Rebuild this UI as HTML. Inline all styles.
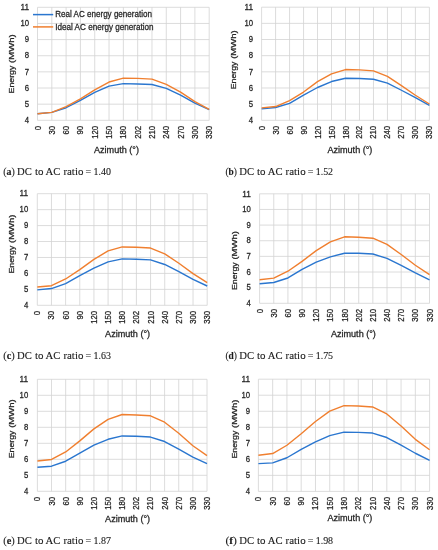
<!DOCTYPE html>
<html><head><meta charset="utf-8"><title>Figure</title>
<style>
html,body{margin:0;padding:0;background:#fff;}
body{width:438px;height:550px;overflow:hidden;}
svg{display:block;will-change:transform;}
.t,.ti,.lg,.yt{font-family:"Liberation Sans",sans-serif;fill:#262626;stroke:#262626;stroke-width:0.27px;}
.t{font-size:8.6px;}
.ti{font-size:8.6px;}
.lg{font-size:8.8px;}
.yt{font-size:8.0px;}
.cap{font-family:"Liberation Serif",serif;font-size:11.4px;fill:#1a1a1a;stroke:#1a1a1a;stroke-width:0.12px;}
</style></head>
<body>
<svg width="438" height="550" viewBox="0 0 438 550">
<rect width="438" height="550" fill="#fff"/>
<path d="M37.5 120.3H209.2M37.5 104.16H209.2M37.5 88.01H209.2M37.5 71.87H209.2M37.5 55.73H209.2M37.5 39.59H209.2M37.5 23.44H209.2M37.5 7.3H209.2M37.5 7.3V120.3M51.81 7.3V120.3M66.12 7.3V120.3M80.42 7.3V120.3M94.73 7.3V120.3M109.04 7.3V120.3M123.35 7.3V120.3M137.66 7.3V120.3M151.97 7.3V120.3M166.27 7.3V120.3M180.58 7.3V120.3M194.89 7.3V120.3M209.2 7.3V120.3" stroke="#d3d3d3" stroke-width="0.8" fill="none"/>
<text x="29.1" y="123.01" text-anchor="end" textLength="4.3" lengthAdjust="spacingAndGlyphs" class="t">4</text>
<text x="29.1" y="106.87" text-anchor="end" textLength="4.3" lengthAdjust="spacingAndGlyphs" class="t">5</text>
<text x="29.1" y="90.72" text-anchor="end" textLength="4.3" lengthAdjust="spacingAndGlyphs" class="t">6</text>
<text x="29.1" y="74.58" text-anchor="end" textLength="4.3" lengthAdjust="spacingAndGlyphs" class="t">7</text>
<text x="29.1" y="58.44" text-anchor="end" textLength="4.3" lengthAdjust="spacingAndGlyphs" class="t">8</text>
<text x="29.1" y="42.3" text-anchor="end" textLength="4.3" lengthAdjust="spacingAndGlyphs" class="t">9</text>
<text x="29.1" y="26.15" text-anchor="end" textLength="8.6" lengthAdjust="spacingAndGlyphs" class="t">10</text>
<text x="29.1" y="10.01" text-anchor="end" textLength="8.6" lengthAdjust="spacingAndGlyphs" class="t">11</text>
<text transform="translate(40.51 125.9) rotate(-90)" text-anchor="end" textLength="4.3" lengthAdjust="spacingAndGlyphs" class="t">0</text>
<text transform="translate(54.82 125.9) rotate(-90)" text-anchor="end" textLength="8.6" lengthAdjust="spacingAndGlyphs" class="t">30</text>
<text transform="translate(69.13 125.9) rotate(-90)" text-anchor="end" textLength="8.6" lengthAdjust="spacingAndGlyphs" class="t">60</text>
<text transform="translate(83.44 125.9) rotate(-90)" text-anchor="end" textLength="8.6" lengthAdjust="spacingAndGlyphs" class="t">90</text>
<text transform="translate(97.74 125.9) rotate(-90)" text-anchor="end" textLength="12.9" lengthAdjust="spacingAndGlyphs" class="t">120</text>
<text transform="translate(112.05 125.9) rotate(-90)" text-anchor="end" textLength="12.9" lengthAdjust="spacingAndGlyphs" class="t">150</text>
<text transform="translate(126.36 125.9) rotate(-90)" text-anchor="end" textLength="12.9" lengthAdjust="spacingAndGlyphs" class="t">180</text>
<text transform="translate(140.67 125.9) rotate(-90)" text-anchor="end" textLength="12.9" lengthAdjust="spacingAndGlyphs" class="t">202</text>
<text transform="translate(154.98 125.9) rotate(-90)" text-anchor="end" textLength="12.9" lengthAdjust="spacingAndGlyphs" class="t">210</text>
<text transform="translate(169.28 125.9) rotate(-90)" text-anchor="end" textLength="12.9" lengthAdjust="spacingAndGlyphs" class="t">240</text>
<text transform="translate(183.59 125.9) rotate(-90)" text-anchor="end" textLength="12.9" lengthAdjust="spacingAndGlyphs" class="t">270</text>
<text transform="translate(197.9 125.9) rotate(-90)" text-anchor="end" textLength="12.9" lengthAdjust="spacingAndGlyphs" class="t">300</text>
<text transform="translate(212.21 125.9) rotate(-90)" text-anchor="end" textLength="12.9" lengthAdjust="spacingAndGlyphs" class="t">330</text>
<text transform="translate(13.9 93.4) rotate(-90)" textLength="27.8" lengthAdjust="spacingAndGlyphs" class="yt">Energy</text>
<text transform="translate(13.9 62.9) rotate(-90)" textLength="28.5" lengthAdjust="spacingAndGlyphs" class="yt">(MWh)</text>
<text x="116.5" y="153" text-anchor="middle" textLength="45.0" lengthAdjust="spacingAndGlyphs" class="ti">Azimuth (°)</text>
<polyline points="37.5,113.68 51.81,112.39 66.12,107.71 80.42,100.28 94.73,92.37 109.04,86.08 123.35,83.66 137.66,83.98 151.97,84.46 166.27,88.34 180.58,95.12 194.89,103.19 209.2,109.65" fill="none" stroke="#2a76cf" stroke-width="1.4" stroke-linejoin="round" stroke-linecap="butt"/>
<polyline points="37.5,113.68 51.81,112.39 66.12,106.58 80.42,98.83 94.73,89.95 109.04,82.04 123.35,78.17 137.66,78.33 151.97,79.14 166.27,84.3 180.58,92.05 194.89,101.57 209.2,109.48" fill="none" stroke="#f07f2f" stroke-width="1.4" stroke-linejoin="round" stroke-linecap="butt"/>
<path d="M33 14.6H53.2" stroke="#2a76cf" stroke-width="1.5"/>
<path d="M33 26.9H53.2" stroke="#f07f2f" stroke-width="1.5"/>
<text x="55.2" y="17.1" textLength="96.8" lengthAdjust="spacingAndGlyphs" class="lg">Real AC energy generation</text>
<text x="55.2" y="29.7" textLength="98.4" lengthAdjust="spacingAndGlyphs" class="lg">Ideal AC energy generation</text>
<text x="3.2" y="175" textLength="11.5" lengthAdjust="spacingAndGlyphs" class="cap">(<tspan font-weight="bold">a</tspan>)</text>
<text x="17.1" y="175" textLength="14.8" lengthAdjust="spacingAndGlyphs" class="cap">DC</text>
<text x="34.9" y="175" textLength="8.5" lengthAdjust="spacingAndGlyphs" class="cap">to</text>
<text x="45.5" y="175" textLength="14.8" lengthAdjust="spacingAndGlyphs" class="cap">AC</text>
<text x="63.4" y="175" textLength="20" lengthAdjust="spacingAndGlyphs" class="cap">ratio</text>
<text x="85.6" y="175" textLength="5.7" lengthAdjust="spacingAndGlyphs" class="cap">=</text>
<text x="93.5" y="175" textLength="17.4" lengthAdjust="spacingAndGlyphs" class="cap">1.40</text>
<path d="M261.6 120.3H429.4M261.6 104.14H429.4M261.6 87.99H429.4M261.6 71.83H429.4M261.6 55.67H429.4M261.6 39.51H429.4M261.6 23.36H429.4M261.6 7.2H429.4M261.6 7.2V120.3M275.58 7.2V120.3M289.57 7.2V120.3M303.55 7.2V120.3M317.53 7.2V120.3M331.52 7.2V120.3M345.5 7.2V120.3M359.48 7.2V120.3M373.47 7.2V120.3M387.45 7.2V120.3M401.43 7.2V120.3M415.42 7.2V120.3M429.4 7.2V120.3" stroke="#d3d3d3" stroke-width="0.8" fill="none"/>
<text x="253" y="123.01" text-anchor="end" textLength="4.3" lengthAdjust="spacingAndGlyphs" class="t">4</text>
<text x="253" y="106.85" text-anchor="end" textLength="4.3" lengthAdjust="spacingAndGlyphs" class="t">5</text>
<text x="253" y="90.7" text-anchor="end" textLength="4.3" lengthAdjust="spacingAndGlyphs" class="t">6</text>
<text x="253" y="74.54" text-anchor="end" textLength="4.3" lengthAdjust="spacingAndGlyphs" class="t">7</text>
<text x="253" y="58.38" text-anchor="end" textLength="4.3" lengthAdjust="spacingAndGlyphs" class="t">8</text>
<text x="253" y="42.22" text-anchor="end" textLength="4.3" lengthAdjust="spacingAndGlyphs" class="t">9</text>
<text x="253" y="26.07" text-anchor="end" textLength="8.6" lengthAdjust="spacingAndGlyphs" class="t">10</text>
<text x="253" y="9.91" text-anchor="end" textLength="8.6" lengthAdjust="spacingAndGlyphs" class="t">11</text>
<text transform="translate(264.61 125.9) rotate(-90)" text-anchor="end" textLength="4.3" lengthAdjust="spacingAndGlyphs" class="t">0</text>
<text transform="translate(278.59 125.9) rotate(-90)" text-anchor="end" textLength="8.6" lengthAdjust="spacingAndGlyphs" class="t">30</text>
<text transform="translate(292.58 125.9) rotate(-90)" text-anchor="end" textLength="8.6" lengthAdjust="spacingAndGlyphs" class="t">60</text>
<text transform="translate(306.56 125.9) rotate(-90)" text-anchor="end" textLength="8.6" lengthAdjust="spacingAndGlyphs" class="t">90</text>
<text transform="translate(320.54 125.9) rotate(-90)" text-anchor="end" textLength="12.9" lengthAdjust="spacingAndGlyphs" class="t">120</text>
<text transform="translate(334.53 125.9) rotate(-90)" text-anchor="end" textLength="12.9" lengthAdjust="spacingAndGlyphs" class="t">150</text>
<text transform="translate(348.51 125.9) rotate(-90)" text-anchor="end" textLength="12.9" lengthAdjust="spacingAndGlyphs" class="t">180</text>
<text transform="translate(362.49 125.9) rotate(-90)" text-anchor="end" textLength="12.9" lengthAdjust="spacingAndGlyphs" class="t">202</text>
<text transform="translate(376.48 125.9) rotate(-90)" text-anchor="end" textLength="12.9" lengthAdjust="spacingAndGlyphs" class="t">210</text>
<text transform="translate(390.46 125.9) rotate(-90)" text-anchor="end" textLength="12.9" lengthAdjust="spacingAndGlyphs" class="t">240</text>
<text transform="translate(404.44 125.9) rotate(-90)" text-anchor="end" textLength="12.9" lengthAdjust="spacingAndGlyphs" class="t">270</text>
<text transform="translate(418.43 125.9) rotate(-90)" text-anchor="end" textLength="12.9" lengthAdjust="spacingAndGlyphs" class="t">300</text>
<text transform="translate(432.41 125.9) rotate(-90)" text-anchor="end" textLength="12.9" lengthAdjust="spacingAndGlyphs" class="t">330</text>
<text transform="translate(235.8 89.3) rotate(-90)" textLength="27.8" lengthAdjust="spacingAndGlyphs" class="yt">Energy</text>
<text transform="translate(235.8 58.8) rotate(-90)" textLength="28.5" lengthAdjust="spacingAndGlyphs" class="yt">(MWh)</text>
<text x="349.9" y="153" text-anchor="middle" textLength="45.0" lengthAdjust="spacingAndGlyphs" class="ti">Azimuth (°)</text>
<polyline points="261.6,108.83 275.58,107.54 289.57,103.34 303.55,95.09 317.53,87.5 331.52,81.52 345.5,78.29 359.48,78.45 373.47,79.26 387.45,83.14 401.43,90.25 415.42,97.68 429.4,105.27" fill="none" stroke="#2a76cf" stroke-width="1.4" stroke-linejoin="round" stroke-linecap="butt"/>
<polyline points="261.6,107.86 275.58,106.57 289.57,100.59 303.55,92.03 317.53,81.68 331.52,73.93 345.5,69.57 359.48,69.89 373.47,70.86 387.45,76.35 401.43,85.56 415.42,95.26 429.4,103.98" fill="none" stroke="#f07f2f" stroke-width="1.4" stroke-linejoin="round" stroke-linecap="butt"/>
<text x="225.4" y="175" textLength="11.5" lengthAdjust="spacingAndGlyphs" class="cap">(<tspan font-weight="bold">b</tspan>)</text>
<text x="239.3" y="175" textLength="14.8" lengthAdjust="spacingAndGlyphs" class="cap">DC</text>
<text x="257.1" y="175" textLength="8.5" lengthAdjust="spacingAndGlyphs" class="cap">to</text>
<text x="267.7" y="175" textLength="14.8" lengthAdjust="spacingAndGlyphs" class="cap">AC</text>
<text x="285.6" y="175" textLength="20" lengthAdjust="spacingAndGlyphs" class="cap">ratio</text>
<text x="307.8" y="175" textLength="5.7" lengthAdjust="spacingAndGlyphs" class="cap">=</text>
<text x="315.7" y="175" textLength="17.4" lengthAdjust="spacingAndGlyphs" class="cap">1.52</text>
<path d="M37.3 305.3H207.2M37.3 289.36H207.2M37.3 273.41H207.2M37.3 257.47H207.2M37.3 241.53H207.2M37.3 225.59H207.2M37.3 209.64H207.2M37.3 193.7H207.2M37.3 193.7V305.3M51.46 193.7V305.3M65.62 193.7V305.3M79.77 193.7V305.3M93.93 193.7V305.3M108.09 193.7V305.3M122.25 193.7V305.3M136.41 193.7V305.3M150.57 193.7V305.3M164.72 193.7V305.3M178.88 193.7V305.3M193.04 193.7V305.3M207.2 193.7V305.3" stroke="#d3d3d3" stroke-width="0.8" fill="none"/>
<text x="28.2" y="308.01" text-anchor="end" textLength="4.3" lengthAdjust="spacingAndGlyphs" class="t">4</text>
<text x="28.2" y="292.07" text-anchor="end" textLength="4.3" lengthAdjust="spacingAndGlyphs" class="t">5</text>
<text x="28.2" y="276.12" text-anchor="end" textLength="4.3" lengthAdjust="spacingAndGlyphs" class="t">6</text>
<text x="28.2" y="260.18" text-anchor="end" textLength="4.3" lengthAdjust="spacingAndGlyphs" class="t">7</text>
<text x="28.2" y="244.24" text-anchor="end" textLength="4.3" lengthAdjust="spacingAndGlyphs" class="t">8</text>
<text x="28.2" y="228.3" text-anchor="end" textLength="4.3" lengthAdjust="spacingAndGlyphs" class="t">9</text>
<text x="28.2" y="212.35" text-anchor="end" textLength="8.6" lengthAdjust="spacingAndGlyphs" class="t">10</text>
<text x="28.2" y="196.41" text-anchor="end" textLength="8.6" lengthAdjust="spacingAndGlyphs" class="t">11</text>
<text transform="translate(40.31 310.9) rotate(-90)" text-anchor="end" textLength="4.3" lengthAdjust="spacingAndGlyphs" class="t">0</text>
<text transform="translate(54.47 310.9) rotate(-90)" text-anchor="end" textLength="8.6" lengthAdjust="spacingAndGlyphs" class="t">30</text>
<text transform="translate(68.63 310.9) rotate(-90)" text-anchor="end" textLength="8.6" lengthAdjust="spacingAndGlyphs" class="t">60</text>
<text transform="translate(82.78 310.9) rotate(-90)" text-anchor="end" textLength="8.6" lengthAdjust="spacingAndGlyphs" class="t">90</text>
<text transform="translate(96.94 310.9) rotate(-90)" text-anchor="end" textLength="12.9" lengthAdjust="spacingAndGlyphs" class="t">120</text>
<text transform="translate(111.1 310.9) rotate(-90)" text-anchor="end" textLength="12.9" lengthAdjust="spacingAndGlyphs" class="t">150</text>
<text transform="translate(125.26 310.9) rotate(-90)" text-anchor="end" textLength="12.9" lengthAdjust="spacingAndGlyphs" class="t">180</text>
<text transform="translate(139.42 310.9) rotate(-90)" text-anchor="end" textLength="12.9" lengthAdjust="spacingAndGlyphs" class="t">202</text>
<text transform="translate(153.58 310.9) rotate(-90)" text-anchor="end" textLength="12.9" lengthAdjust="spacingAndGlyphs" class="t">210</text>
<text transform="translate(167.73 310.9) rotate(-90)" text-anchor="end" textLength="12.9" lengthAdjust="spacingAndGlyphs" class="t">240</text>
<text transform="translate(181.89 310.9) rotate(-90)" text-anchor="end" textLength="12.9" lengthAdjust="spacingAndGlyphs" class="t">270</text>
<text transform="translate(196.05 310.9) rotate(-90)" text-anchor="end" textLength="12.9" lengthAdjust="spacingAndGlyphs" class="t">300</text>
<text transform="translate(210.21 310.9) rotate(-90)" text-anchor="end" textLength="12.9" lengthAdjust="spacingAndGlyphs" class="t">330</text>
<text transform="translate(14.35 273.5) rotate(-90)" textLength="27.8" lengthAdjust="spacingAndGlyphs" class="yt">Energy</text>
<text transform="translate(14.35 243) rotate(-90)" textLength="28.5" lengthAdjust="spacingAndGlyphs" class="yt">(MWh)</text>
<text x="127.6" y="337.1" text-anchor="middle" textLength="45.0" lengthAdjust="spacingAndGlyphs" class="ti">Azimuth (°)</text>
<polyline points="37.3,289.84 51.46,288.56 65.62,283.62 79.77,275.65 93.93,268.15 108.09,261.94 122.25,258.91 136.41,259.23 150.57,259.86 164.72,264.49 178.88,271.66 193.04,279.47 207.2,286.01" fill="none" stroke="#2a76cf" stroke-width="1.4" stroke-linejoin="round" stroke-linecap="butt"/>
<polyline points="37.3,286.97 51.46,285.69 65.62,278.99 79.77,269.59 93.93,259.38 108.09,250.93 122.25,246.95 136.41,247.27 150.57,248.07 164.72,253.8 178.88,263.21 193.04,273.57 207.2,282.66" fill="none" stroke="#f07f2f" stroke-width="1.4" stroke-linejoin="round" stroke-linecap="butt"/>
<text x="3.2" y="359.2" textLength="11.5" lengthAdjust="spacingAndGlyphs" class="cap">(<tspan font-weight="bold">c</tspan>)</text>
<text x="17.1" y="359.2" textLength="14.8" lengthAdjust="spacingAndGlyphs" class="cap">DC</text>
<text x="34.9" y="359.2" textLength="8.5" lengthAdjust="spacingAndGlyphs" class="cap">to</text>
<text x="45.5" y="359.2" textLength="14.8" lengthAdjust="spacingAndGlyphs" class="cap">AC</text>
<text x="63.4" y="359.2" textLength="20" lengthAdjust="spacingAndGlyphs" class="cap">ratio</text>
<text x="85.6" y="359.2" textLength="5.7" lengthAdjust="spacingAndGlyphs" class="cap">=</text>
<text x="93.5" y="359.2" textLength="17.4" lengthAdjust="spacingAndGlyphs" class="cap">1.63</text>
<path d="M259.6 303.3H429.5M259.6 287.66H429.5M259.6 272.01H429.5M259.6 256.37H429.5M259.6 240.73H429.5M259.6 225.09H429.5M259.6 209.44H429.5M259.6 193.8H429.5M259.6 193.8V303.3M273.76 193.8V303.3M287.92 193.8V303.3M302.08 193.8V303.3M316.23 193.8V303.3M330.39 193.8V303.3M344.55 193.8V303.3M358.71 193.8V303.3M372.87 193.8V303.3M387.02 193.8V303.3M401.18 193.8V303.3M415.34 193.8V303.3M429.5 193.8V303.3" stroke="#d3d3d3" stroke-width="0.8" fill="none"/>
<text x="250.9" y="306.01" text-anchor="end" textLength="4.3" lengthAdjust="spacingAndGlyphs" class="t">4</text>
<text x="250.9" y="290.37" text-anchor="end" textLength="4.3" lengthAdjust="spacingAndGlyphs" class="t">5</text>
<text x="250.9" y="274.72" text-anchor="end" textLength="4.3" lengthAdjust="spacingAndGlyphs" class="t">6</text>
<text x="250.9" y="259.08" text-anchor="end" textLength="4.3" lengthAdjust="spacingAndGlyphs" class="t">7</text>
<text x="250.9" y="243.44" text-anchor="end" textLength="4.3" lengthAdjust="spacingAndGlyphs" class="t">8</text>
<text x="250.9" y="227.8" text-anchor="end" textLength="4.3" lengthAdjust="spacingAndGlyphs" class="t">9</text>
<text x="250.9" y="212.15" text-anchor="end" textLength="8.6" lengthAdjust="spacingAndGlyphs" class="t">10</text>
<text x="250.9" y="196.51" text-anchor="end" textLength="8.6" lengthAdjust="spacingAndGlyphs" class="t">11</text>
<text transform="translate(262.61 308.9) rotate(-90)" text-anchor="end" textLength="4.3" lengthAdjust="spacingAndGlyphs" class="t">0</text>
<text transform="translate(276.77 308.9) rotate(-90)" text-anchor="end" textLength="8.6" lengthAdjust="spacingAndGlyphs" class="t">30</text>
<text transform="translate(290.93 308.9) rotate(-90)" text-anchor="end" textLength="8.6" lengthAdjust="spacingAndGlyphs" class="t">60</text>
<text transform="translate(305.09 308.9) rotate(-90)" text-anchor="end" textLength="8.6" lengthAdjust="spacingAndGlyphs" class="t">90</text>
<text transform="translate(319.24 308.9) rotate(-90)" text-anchor="end" textLength="12.9" lengthAdjust="spacingAndGlyphs" class="t">120</text>
<text transform="translate(333.4 308.9) rotate(-90)" text-anchor="end" textLength="12.9" lengthAdjust="spacingAndGlyphs" class="t">150</text>
<text transform="translate(347.56 308.9) rotate(-90)" text-anchor="end" textLength="12.9" lengthAdjust="spacingAndGlyphs" class="t">180</text>
<text transform="translate(361.72 308.9) rotate(-90)" text-anchor="end" textLength="12.9" lengthAdjust="spacingAndGlyphs" class="t">202</text>
<text transform="translate(375.88 308.9) rotate(-90)" text-anchor="end" textLength="12.9" lengthAdjust="spacingAndGlyphs" class="t">210</text>
<text transform="translate(390.03 308.9) rotate(-90)" text-anchor="end" textLength="12.9" lengthAdjust="spacingAndGlyphs" class="t">240</text>
<text transform="translate(404.19 308.9) rotate(-90)" text-anchor="end" textLength="12.9" lengthAdjust="spacingAndGlyphs" class="t">270</text>
<text transform="translate(418.35 308.9) rotate(-90)" text-anchor="end" textLength="12.9" lengthAdjust="spacingAndGlyphs" class="t">300</text>
<text transform="translate(432.51 308.9) rotate(-90)" text-anchor="end" textLength="12.9" lengthAdjust="spacingAndGlyphs" class="t">330</text>
<text transform="translate(237.1 290.1) rotate(-90)" textLength="27.8" lengthAdjust="spacingAndGlyphs" class="yt">Energy</text>
<text transform="translate(237.1 259.6) rotate(-90)" textLength="28.5" lengthAdjust="spacingAndGlyphs" class="yt">(MWh)</text>
<text x="353.4" y="337.1" text-anchor="middle" textLength="45.0" lengthAdjust="spacingAndGlyphs" class="ti">Azimuth (°)</text>
<polyline points="259.6,283.75 273.76,282.5 287.92,277.96 302.08,269.36 316.23,262.16 330.39,256.84 344.55,253.24 358.71,253.24 372.87,254.03 387.02,258.41 401.18,265.44 415.34,272.95 429.5,279.84" fill="none" stroke="#2a76cf" stroke-width="1.4" stroke-linejoin="round" stroke-linecap="butt"/>
<polyline points="259.6,279.68 273.76,278.12 287.92,271.23 302.08,261.38 316.23,250.58 330.39,241.82 344.55,236.82 358.71,237.29 372.87,238.23 387.02,244.33 401.18,254.49 415.34,265.29 429.5,274.67" fill="none" stroke="#f07f2f" stroke-width="1.4" stroke-linejoin="round" stroke-linecap="butt"/>
<text x="225.4" y="359.2" textLength="11.5" lengthAdjust="spacingAndGlyphs" class="cap">(<tspan font-weight="bold">d</tspan>)</text>
<text x="239.3" y="359.2" textLength="14.8" lengthAdjust="spacingAndGlyphs" class="cap">DC</text>
<text x="257.1" y="359.2" textLength="8.5" lengthAdjust="spacingAndGlyphs" class="cap">to</text>
<text x="267.7" y="359.2" textLength="14.8" lengthAdjust="spacingAndGlyphs" class="cap">AC</text>
<text x="285.6" y="359.2" textLength="20" lengthAdjust="spacingAndGlyphs" class="cap">ratio</text>
<text x="307.8" y="359.2" textLength="5.7" lengthAdjust="spacingAndGlyphs" class="cap">=</text>
<text x="315.7" y="359.2" textLength="17.4" lengthAdjust="spacingAndGlyphs" class="cap">1.75</text>
<path d="M37.4 491.3H207M37.4 475.3H207M37.4 459.3H207M37.4 443.3H207M37.4 427.3H207M37.4 411.3H207M37.4 395.3H207M37.4 379.3H207M37.4 379.3V491.3M51.53 379.3V491.3M65.67 379.3V491.3M79.8 379.3V491.3M93.93 379.3V491.3M108.07 379.3V491.3M122.2 379.3V491.3M136.33 379.3V491.3M150.47 379.3V491.3M164.6 379.3V491.3M178.73 379.3V491.3M192.87 379.3V491.3M207 379.3V491.3" stroke="#d3d3d3" stroke-width="0.8" fill="none"/>
<text x="28.2" y="494.01" text-anchor="end" textLength="4.3" lengthAdjust="spacingAndGlyphs" class="t">4</text>
<text x="28.2" y="478.01" text-anchor="end" textLength="4.3" lengthAdjust="spacingAndGlyphs" class="t">5</text>
<text x="28.2" y="462.01" text-anchor="end" textLength="4.3" lengthAdjust="spacingAndGlyphs" class="t">6</text>
<text x="28.2" y="446.01" text-anchor="end" textLength="4.3" lengthAdjust="spacingAndGlyphs" class="t">7</text>
<text x="28.2" y="430.01" text-anchor="end" textLength="4.3" lengthAdjust="spacingAndGlyphs" class="t">8</text>
<text x="28.2" y="414.01" text-anchor="end" textLength="4.3" lengthAdjust="spacingAndGlyphs" class="t">9</text>
<text x="28.2" y="398.01" text-anchor="end" textLength="8.6" lengthAdjust="spacingAndGlyphs" class="t">10</text>
<text x="28.2" y="382.01" text-anchor="end" textLength="8.6" lengthAdjust="spacingAndGlyphs" class="t">11</text>
<text transform="translate(40.41 496.9) rotate(-90)" text-anchor="end" textLength="4.3" lengthAdjust="spacingAndGlyphs" class="t">0</text>
<text transform="translate(54.54 496.9) rotate(-90)" text-anchor="end" textLength="8.6" lengthAdjust="spacingAndGlyphs" class="t">30</text>
<text transform="translate(68.68 496.9) rotate(-90)" text-anchor="end" textLength="8.6" lengthAdjust="spacingAndGlyphs" class="t">60</text>
<text transform="translate(82.81 496.9) rotate(-90)" text-anchor="end" textLength="8.6" lengthAdjust="spacingAndGlyphs" class="t">90</text>
<text transform="translate(96.94 496.9) rotate(-90)" text-anchor="end" textLength="12.9" lengthAdjust="spacingAndGlyphs" class="t">120</text>
<text transform="translate(111.08 496.9) rotate(-90)" text-anchor="end" textLength="12.9" lengthAdjust="spacingAndGlyphs" class="t">150</text>
<text transform="translate(125.21 496.9) rotate(-90)" text-anchor="end" textLength="12.9" lengthAdjust="spacingAndGlyphs" class="t">180</text>
<text transform="translate(139.34 496.9) rotate(-90)" text-anchor="end" textLength="12.9" lengthAdjust="spacingAndGlyphs" class="t">202</text>
<text transform="translate(153.48 496.9) rotate(-90)" text-anchor="end" textLength="12.9" lengthAdjust="spacingAndGlyphs" class="t">210</text>
<text transform="translate(167.61 496.9) rotate(-90)" text-anchor="end" textLength="12.9" lengthAdjust="spacingAndGlyphs" class="t">240</text>
<text transform="translate(181.74 496.9) rotate(-90)" text-anchor="end" textLength="12.9" lengthAdjust="spacingAndGlyphs" class="t">270</text>
<text transform="translate(195.88 496.9) rotate(-90)" text-anchor="end" textLength="12.9" lengthAdjust="spacingAndGlyphs" class="t">300</text>
<text transform="translate(210.01 496.9) rotate(-90)" text-anchor="end" textLength="12.9" lengthAdjust="spacingAndGlyphs" class="t">330</text>
<text transform="translate(14.2 458.3) rotate(-90)" textLength="27.8" lengthAdjust="spacingAndGlyphs" class="yt">Energy</text>
<text transform="translate(14.2 427.8) rotate(-90)" textLength="28.5" lengthAdjust="spacingAndGlyphs" class="yt">(MWh)</text>
<text x="127.6" y="522.1" text-anchor="middle" textLength="45.0" lengthAdjust="spacingAndGlyphs" class="ti">Azimuth (°)</text>
<polyline points="37.4,467.3 51.53,466.18 65.67,461.22 79.8,453.22 93.93,445.22 108.07,439.3 122.2,435.94 136.33,436.26 150.47,437.06 164.6,441.54 178.73,449.22 192.87,457.22 207,463.62" fill="none" stroke="#2a76cf" stroke-width="1.4" stroke-linejoin="round" stroke-linecap="butt"/>
<polyline points="37.4,461.06 51.53,459.46 65.67,451.94 79.8,440.9 93.93,428.9 108.07,419.3 122.2,414.5 136.33,414.98 150.47,415.78 164.6,422.18 178.73,433.22 192.87,445.7 207,455.62" fill="none" stroke="#f07f2f" stroke-width="1.4" stroke-linejoin="round" stroke-linecap="butt"/>
<text x="3.2" y="544.2" textLength="11.5" lengthAdjust="spacingAndGlyphs" class="cap">(<tspan font-weight="bold">e</tspan>)</text>
<text x="17.1" y="544.2" textLength="14.8" lengthAdjust="spacingAndGlyphs" class="cap">DC</text>
<text x="34.9" y="544.2" textLength="8.5" lengthAdjust="spacingAndGlyphs" class="cap">to</text>
<text x="45.5" y="544.2" textLength="14.8" lengthAdjust="spacingAndGlyphs" class="cap">AC</text>
<text x="63.4" y="544.2" textLength="20" lengthAdjust="spacingAndGlyphs" class="cap">ratio</text>
<text x="85.6" y="544.2" textLength="5.7" lengthAdjust="spacingAndGlyphs" class="cap">=</text>
<text x="93.5" y="544.2" textLength="17.4" lengthAdjust="spacingAndGlyphs" class="cap">1.87</text>
<path d="M258.4 491.4H429.6M258.4 475.37H429.6M258.4 459.34H429.6M258.4 443.31H429.6M258.4 427.29H429.6M258.4 411.26H429.6M258.4 395.23H429.6M258.4 379.2H429.6M258.4 379.2V491.4M272.67 379.2V491.4M286.93 379.2V491.4M301.2 379.2V491.4M315.47 379.2V491.4M329.73 379.2V491.4M344 379.2V491.4M358.27 379.2V491.4M372.53 379.2V491.4M386.8 379.2V491.4M401.07 379.2V491.4M415.33 379.2V491.4M429.6 379.2V491.4" stroke="#d3d3d3" stroke-width="0.8" fill="none"/>
<text x="250.1" y="494.11" text-anchor="end" textLength="4.3" lengthAdjust="spacingAndGlyphs" class="t">4</text>
<text x="250.1" y="478.08" text-anchor="end" textLength="4.3" lengthAdjust="spacingAndGlyphs" class="t">5</text>
<text x="250.1" y="462.05" text-anchor="end" textLength="4.3" lengthAdjust="spacingAndGlyphs" class="t">6</text>
<text x="250.1" y="446.02" text-anchor="end" textLength="4.3" lengthAdjust="spacingAndGlyphs" class="t">7</text>
<text x="250.1" y="430" text-anchor="end" textLength="4.3" lengthAdjust="spacingAndGlyphs" class="t">8</text>
<text x="250.1" y="413.97" text-anchor="end" textLength="4.3" lengthAdjust="spacingAndGlyphs" class="t">9</text>
<text x="250.1" y="397.94" text-anchor="end" textLength="8.6" lengthAdjust="spacingAndGlyphs" class="t">10</text>
<text x="250.1" y="381.91" text-anchor="end" textLength="8.6" lengthAdjust="spacingAndGlyphs" class="t">11</text>
<text transform="translate(261.41 497) rotate(-90)" text-anchor="end" textLength="4.3" lengthAdjust="spacingAndGlyphs" class="t">0</text>
<text transform="translate(275.68 497) rotate(-90)" text-anchor="end" textLength="8.6" lengthAdjust="spacingAndGlyphs" class="t">30</text>
<text transform="translate(289.94 497) rotate(-90)" text-anchor="end" textLength="8.6" lengthAdjust="spacingAndGlyphs" class="t">60</text>
<text transform="translate(304.21 497) rotate(-90)" text-anchor="end" textLength="8.6" lengthAdjust="spacingAndGlyphs" class="t">90</text>
<text transform="translate(318.48 497) rotate(-90)" text-anchor="end" textLength="12.9" lengthAdjust="spacingAndGlyphs" class="t">120</text>
<text transform="translate(332.74 497) rotate(-90)" text-anchor="end" textLength="12.9" lengthAdjust="spacingAndGlyphs" class="t">150</text>
<text transform="translate(347.01 497) rotate(-90)" text-anchor="end" textLength="12.9" lengthAdjust="spacingAndGlyphs" class="t">180</text>
<text transform="translate(361.28 497) rotate(-90)" text-anchor="end" textLength="12.9" lengthAdjust="spacingAndGlyphs" class="t">202</text>
<text transform="translate(375.54 497) rotate(-90)" text-anchor="end" textLength="12.9" lengthAdjust="spacingAndGlyphs" class="t">210</text>
<text transform="translate(389.81 497) rotate(-90)" text-anchor="end" textLength="12.9" lengthAdjust="spacingAndGlyphs" class="t">240</text>
<text transform="translate(404.08 497) rotate(-90)" text-anchor="end" textLength="12.9" lengthAdjust="spacingAndGlyphs" class="t">270</text>
<text transform="translate(418.34 497) rotate(-90)" text-anchor="end" textLength="12.9" lengthAdjust="spacingAndGlyphs" class="t">300</text>
<text transform="translate(432.61 497) rotate(-90)" text-anchor="end" textLength="12.9" lengthAdjust="spacingAndGlyphs" class="t">330</text>
<text transform="translate(237.1 458.5) rotate(-90)" textLength="27.8" lengthAdjust="spacingAndGlyphs" class="yt">Energy</text>
<text transform="translate(237.1 428) rotate(-90)" textLength="28.5" lengthAdjust="spacingAndGlyphs" class="yt">(MWh)</text>
<text x="349.9" y="521" text-anchor="middle" textLength="45.0" lengthAdjust="spacingAndGlyphs" class="ti">Azimuth (°)</text>
<polyline points="258.4,463.67 272.67,462.87 286.93,457.74 301.2,449.41 315.47,441.87 329.73,435.62 344,432.09 358.27,432.41 372.53,433.06 386.8,437.54 401.07,445.24 415.33,453.25 429.6,460.3" fill="none" stroke="#2a76cf" stroke-width="1.4" stroke-linejoin="round" stroke-linecap="butt"/>
<polyline points="258.4,455.18 272.67,453.57 286.93,445.24 301.2,433.7 315.47,421.52 329.73,411.1 344,405.65 358.27,405.97 372.53,406.93 386.8,413.98 401.07,426 415.33,439.31 429.6,449.73" fill="none" stroke="#f07f2f" stroke-width="1.4" stroke-linejoin="round" stroke-linecap="butt"/>
<text x="225.4" y="544.2" textLength="11.5" lengthAdjust="spacingAndGlyphs" class="cap">(<tspan font-weight="bold">f</tspan>)</text>
<text x="239.3" y="544.2" textLength="14.8" lengthAdjust="spacingAndGlyphs" class="cap">DC</text>
<text x="257.1" y="544.2" textLength="8.5" lengthAdjust="spacingAndGlyphs" class="cap">to</text>
<text x="267.7" y="544.2" textLength="14.8" lengthAdjust="spacingAndGlyphs" class="cap">AC</text>
<text x="285.6" y="544.2" textLength="20" lengthAdjust="spacingAndGlyphs" class="cap">ratio</text>
<text x="307.8" y="544.2" textLength="5.7" lengthAdjust="spacingAndGlyphs" class="cap">=</text>
<text x="315.7" y="544.2" textLength="17.4" lengthAdjust="spacingAndGlyphs" class="cap">1.98</text>
</svg>
</body></html>
